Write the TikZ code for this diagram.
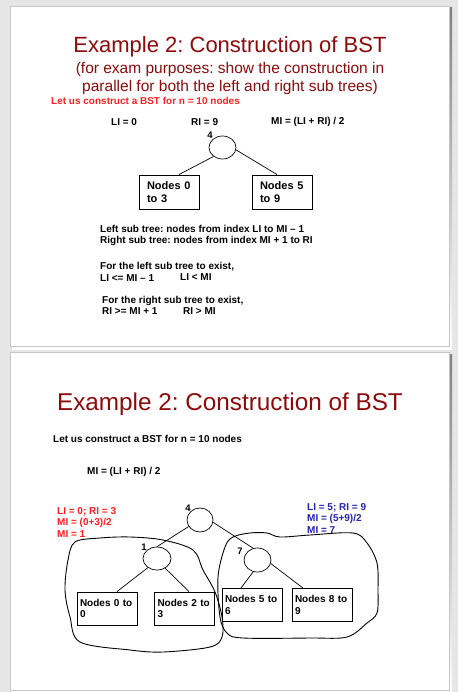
\documentclass[tikz,border=0pt]{standalone}
\usepackage{fontspec}
\setmainfont{Liberation Sans}
\usetikzlibrary{positioning, shapes.geometric}
\definecolor{bg}{HTML}{E6E6E6}
\definecolor{shade}{HTML}{ABABAB}
\definecolor{ttlred}{HTML}{8E0B0B}
\definecolor{hired}{HTML}{FF1F1F}
\definecolor{hiblue}{HTML}{2424B0}
\frenchspacing

\begin{document}
\begin{tikzpicture}[
    x=1pt, y=-1pt,
    slide/.style={fill=white, draw=gray!45, line width=0.5pt},
    ttl/.style={text=ttlred, inner sep=0pt},
    txt/.style={font=\bfseries\fontsize{10}{11.5}\selectfont, anchor=west, align=left, inner sep=0pt},
    num/.style={font=\bfseries\fontsize{9.5}{9.5}\selectfont, inner sep=0pt},
    vtx/.style={draw, ellipse, line width=0.7pt, inner sep=0pt},
    nodebox/.style={draw, line width=0.9pt, align=left, font=\bfseries\fontsize{10}{11.5}\selectfont,
                    minimum width=60pt, minimum height=33pt, text width=54pt, inner xsep=3pt},
    link/.style={line width=0.7pt},
    blob/.style={line width=0.9pt, smooth cycle, tension=0.55},
]
\useasboundingbox (0,0) rectangle (458,692);
\fill[bg] (0,0) rectangle (458,692);

% Slides
\fill[shade] (12,8) rectangle (452,349);
\draw[slide] (10,6) rectangle (449,346);
\fill[shade] (12,354) rectangle (452,693);
\draw[slide] (10,352) rectangle (449,690);

% ---------- Slide 1 ----------
\node[ttl, font=\fontsize{22}{26}\selectfont] (title1) at (230,47) {Example 2: Construction of BST};
\node[ttl, font=\fontsize{15.5}{18}\selectfont, align=center] (subtitle) at (230,78) {%
  (for exam purposes: show the construction in\\
  parallel for both the left and right sub trees)};
\node[txt, text=hired] (intro1) at (51,101) {Let us construct a BST for n = 10 nodes};

\node[txt] (li1) at (111,122) {LI = 0};
\node[txt] (ri1) at (191,122) {RI = 9};
\node[txt] (mi1) at (271,122) {MI = (LI + RI) / 2};

\node[vtx, minimum width=27pt, minimum height=23pt] (root1) at (222.5,147.5) {};
\node[num] (root1num) at (210,135) {4};
\node[nodebox, font=\bfseries\fontsize{11}{12.5}\selectfont, text width=44pt, inner xsep=8pt,
      minimum height=34pt] (box03) at (169,192) {Nodes 0\\to 3};
\node[nodebox, font=\bfseries\fontsize{11}{12.5}\selectfont, text width=44pt, inner xsep=8pt,
      minimum height=34pt] (box59) at (282,192) {Nodes 5\\to 9};
\draw[link] (root1.225) -- ([xshift=10pt]box03.north);
\draw[link] (root1.-10) -- ([xshift=-5pt]box59.north);

\node[txt] (subrange) at (100,235.5) {Left sub tree: nodes from index LI to MI -- 1\\
  Right sub tree: nodes from index MI + 1 to RI};
\node[txt] (leftcond) at (100,272) {For the left sub tree to exist,\\LI <= MI -- 1};
\node[txt] (leftcondb) at (180,277.5) {LI < MI};
\node[txt] (rightcond) at (102,305.5) {For the right sub tree to exist,\\RI >= MI + 1};
\node[txt] (rightcondb) at (183,311) {RI > MI};

% ---------- Slide 2 ----------
\node[ttl, font=\fontsize{24.3}{28}\selectfont] (title2) at (230,404) {Example 2: Construction of BST};
\node[txt] (intro2) at (53,439) {Let us construct a BST for n = 10 nodes};
\node[txt] (mi2) at (87,472) {MI = (LI + RI) / 2};

\node[txt, text=hired] (leftcalc) at (57,522.5) {LI = 0; RI = 3\\MI = (0+3)/2\\MI = 1};
\node[txt, text=hiblue] (rightcalc) at (307,518.5) {LI = 5; RI = 9\\MI = (5+9)/2\\MI = 7};

\node[vtx, minimum width=26pt, minimum height=24pt] (root2) at (200,520) {};
\node[vtx, minimum width=28pt, minimum height=23pt] (mid1) at (157,558.5) {};
\node[vtx, minimum width=27pt, minimum height=24pt] (mid7) at (257.5,560) {};
\node[num] (root2num) at (188,508) {4};
\node[num] (mid1num) at (144,547) {1};
\node[num] (mid7num) at (240,551) {7};

\node[nodebox] (box00) at (107,608.5) {Nodes 0 to\\0};
\node[nodebox] (box23) at (184.5,608.5) {Nodes 2 to\\3};
\node[nodebox] (box56) at (252,605) {Nodes 5 to\\6};
\node[nodebox] (box89) at (322,605) {Nodes 8 to\\9};

\draw[link] (root2.210) -- (mid1.north);
\draw[link] (root2.-10) -- (mid7.110);
\draw[link] (mid1.225) -- ([xshift=10pt]box00.north);
\draw[link] (mid1.-50) -- ([xshift=4.5pt]box23.north);
\draw[link] (mid7.250) -- ([xshift=-11pt]box56.north);
\draw[link] (mid7.-15) -- ([xshift=-19pt]box89.north);

% hand-drawn groupings of the two sub trees
\draw[blob] plot coordinates {(75,542) (100,538) (130,537) (163,540) (193,550) (203,570)
  (215,592) (222,617) (222,637) (210,647) (163,652) (130,650) (80,642) (70,617) (65,590) (68,560)};
\draw[blob] plot coordinates {(233,537) (250,533) (267,533) (280,537) (310,535) (353,533)
  (367,543) (377,563) (378,590) (377,613) (367,623) (347,637) (310,638) (243,638) (227,633)
  (220,617) (218,577) (225,547)};

\end{tikzpicture}
\end{document}
